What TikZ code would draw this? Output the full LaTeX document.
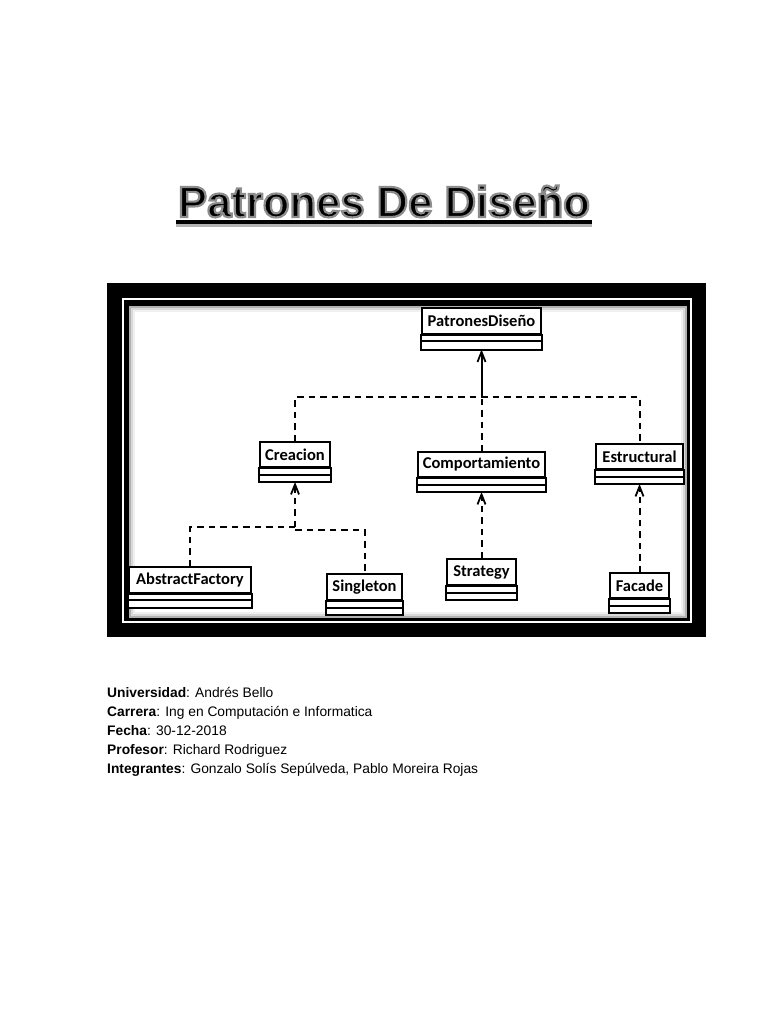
\documentclass[tikz,border=0pt]{standalone}
\usepackage{fontspec}
\setmainfont{Liberation Sans}
\newfontfamily\clsfont{Carlito}
\usetikzlibrary{arrows.meta}

\newcommand{\umlbox}[8]{%
  \node[cls, minimum width=#4pt, minimum height=#5pt] (#1) at (#2,#3) {#8};
  \draw[compart] (#1.south west) rectangle ([yshift=-#6pt]#1.south east);
  \draw[compart] ([yshift=-#6pt]#1.south west) rectangle ([yshift=-#6pt-#7pt]#1.south east);
  \coordinate (#1-bot) at ([yshift=-#6pt-#7pt]#1.south);
}
\newcommand{\outlinetext}[1]{\special{pdf:literal 2 Tr 2.2 w 0.55 G}#1\special{pdf:literal 0 Tr 0 G 1 w}}

\begin{document}
\begin{tikzpicture}[x=1pt,y=-1pt,
  cls/.style={draw, line width=2pt, fill=white, inner sep=0pt, anchor=north,
    font=\clsfont\bfseries\fontsize{16.5}{18}\selectfont},
  compart/.style={draw, line width=2pt, fill=white},
  dep/.style={line width=2pt, dash pattern=on 6.5pt off 5pt},
  arr/.style={-{Straight Barb[length=10pt,width=8pt,line width=1.8pt]}},
  info/.style={anchor=base west, inner sep=0pt, font=\fontsize{13.8}{16}\selectfont},
  ttl/.style={anchor=base, inner sep=0pt, font=\bfseries\fontsize{43.6}{48}\selectfont}
]
\useasboundingbox (0,0) rectangle (768,1024);
\fill[white] (0,0) rectangle (768,1024);

% title
\node[ttl] (title) at (384,217) {\outlinetext{Patrones De Diseño}};
\fill[black] (176,220.5) rectangle (592,224);
\fill[gray!60] (176,224.5) rectangle (592,227);

% frame
\fill[black] (107,283) rectangle (706,637);
\fill[white] (122,298) rectangle (692,623);
\fill[black] (124,300) rectangle (690,621);
\fill[white] (129,306) rectangle (687,618);
\draw[gray!60, line width=2pt] (130,307) rectangle (686,617);
\draw[gray!30, line width=2pt] (132,309) rectangle (684,615);
\draw[gray!12, line width=2pt] (134,311) rectangle (682,613);

% classes
\umlbox{pd}{481.5}{306.5}{119}{26}{6}{9}{PatronesDiseño}
\umlbox{cre}{295}{441}{70}{25}{7}{7}{Creacion}
\umlbox{com}{481.5}{451}{127}{25}{7}{7}{Comportamiento}
\umlbox{est}{639.5}{443}{87}{25}{7}{7}{Estructural}
\umlbox{af}{190}{566}{122}{26}{6}{8}{AbstractFactory}
\umlbox{sing}{364.5}{573}{75}{26}{7}{7}{Singleton}
\umlbox{str}{481.5}{558}{69}{26}{7}{7}{Strategy}
\umlbox{fac}{639.5}{572}{59}{25}{7}{7}{Facade}

% connectors
\coordinate (j1) at (481.5,397);
\coordinate (jl) at (295,397);
\draw[dep] (cre.north) -- (jl) -| (est.north);
\draw[dep] (com.north) -- (j1);
\draw[line width=2pt, arr] (j1) -- (pd-bot);

\coordinate (j2) at (295,527);
\coordinate (j3) at (295,530);
\draw[dep, arr] (j2) -- (cre-bot);
\draw[dep] (af.north) |- (j2);
\draw[dep] (j3) -| (sing.north);
\draw[dep, arr] (str.north) -- (com-bot);
\draw[dep, arr] (fac.north) -- (est-bot);

% info
\node[info] (i1) at (107,697) {\textbf{Universidad}: Andrés Bello};
\node[info] (i2) at (107,716) {\textbf{Carrera}: Ing en Computación e Informatica};
\node[info] (i3) at (107,735) {\textbf{Fecha}: 30-12-2018};
\node[info] (i4) at (107,754) {\textbf{Profesor}: Richard Rodriguez};
\node[info] (i5) at (107,773) {\textbf{Integrantes}: Gonzalo Solís Sepúlveda, Pablo Moreira Rojas};
\end{tikzpicture}
\end{document}
